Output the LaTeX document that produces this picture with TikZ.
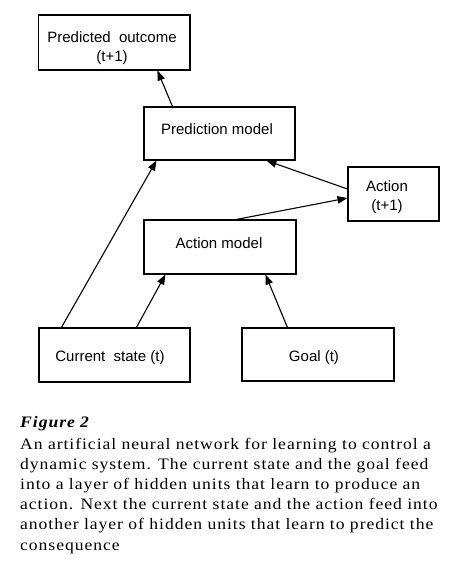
\documentclass[tikz,border=0pt]{standalone}
\usepackage{fontspec}
\setmainfont{Liberation Serif}
\newfontfamily\diagfont{Liberation Sans}
\newfontfamily\capfont[FakeStretch=1.1,LetterSpace=6]{Liberation Serif}
\usetikzlibrary{arrows.meta,calc}
\tikzset{
  box/.style={draw, line width=1.1pt, rectangle, inner sep=0pt},
  lbl/.style={font=\diagfont\fontsize{15}{18}\selectfont, align=center, inner sep=0pt},
  arr/.style={line width=1.1pt, -{Triangle[length=10pt,width=7.5pt]}},
}
\begin{document}
\begin{tikzpicture}[x=1pt,y=-1pt]
\useasboundingbox (0,0) rectangle (474,567);
\fill[white] (0,0) rectangle (474,567);
% boxes
\node[box, minimum width=151.3pt, minimum height=55pt] (po) at (114.3,42.5) {};
\node[box, minimum width=151pt, minimum height=53pt] (pm) at (219.5,133.5) {};
\node[box, minimum width=91pt, minimum height=54pt] (act) at (393.5,194) {};
\node[box, minimum width=152pt, minimum height=54pt] (am) at (220,247) {};
\node[box, minimum width=151pt, minimum height=54pt] (cs) at (114.5,355) {};
\node[box, minimum width=152pt, minimum height=53pt] (goal) at (318,354.5) {};
% labels
\node[lbl] (pot) at (112,48) {Predicted\ \ outcome\\[1pt](t+1)};
\node[lbl] (pmt) at (217,129) {Prediction model};
\node[lbl] (actt) at (387,197.5) {Action\\[1pt](t+1)};
\node[lbl] (amt) at (219,243) {Action model};
\node[lbl] (cst) at (110,358) {Current\ \ state (t)};
\node[lbl] (goalt) at (314,358) {Goal (t)};
% connectors
\draw[arr] ($(pm.north west)+(29,0)$) -- ($(po.south west)+(119.3,0)$);
\draw[arr] ($(act.west)+(0,-5)$) -- ($(pm.south west)+(123,0)$);
\draw[arr] ($(am.north west)+(93,0)$) -- ($(act.west)+(0,4)$);
\draw[arr] ($(cs.north west)+(23,0)$) -- ($(pm.south west)+(13,0)$);
\draw[arr] ($(cs.north west)+(98,0)$) -- ($(am.south west)+(22,0)$);
\draw[arr] ($(goal.north west)+(46,0)$) -- ($(am.south west)+(122,0)$);
% caption
\node[anchor=base west, align=left, inner sep=0pt, font=\capfont\fontsize{16}{20.2}\selectfont] (cap) at (20,550)
{\textbf{\textit{Figure 2}}\\[1pt]
An artificial neural network for learning to control a\\
dynamic system. The current state and the goal feed\\
into a layer of hidden units that learn to produce an\\
action. Next the current state and the action feed into\\
another layer of hidden units that learn to predict the\\
consequence};
\end{tikzpicture}
\end{document}
